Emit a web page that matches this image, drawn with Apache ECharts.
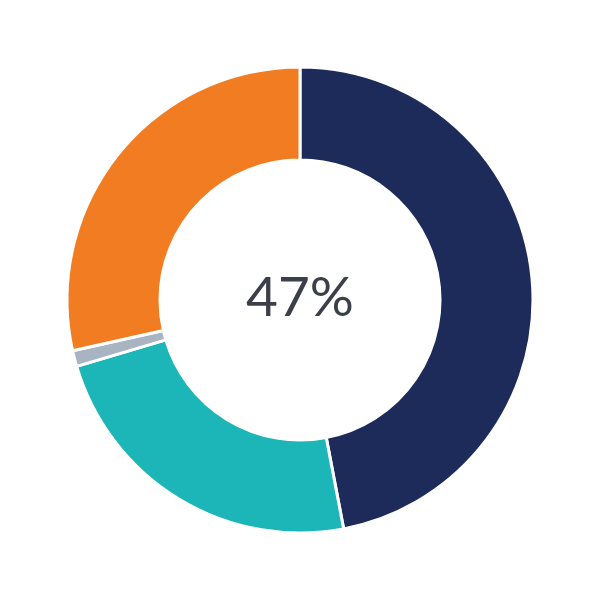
<!DOCTYPE html>
<html><head><meta charset="utf-8">
<script src="https://cdn.jsdelivr.net/npm/echarts@6/dist/echarts.min.js"></script>
<style>html,body{margin:0;padding:0;background:#fff}#c{width:600px;height:600px}</style>
</head><body><div id="c"></div>
<script>
const categories = ['Navy', 'Teal', 'Gray', 'Orange'];
const values = [47, 23.4, 1.1, 28.5];
const colors = ['#1c2b5a', '#1cb5b8', '#a9b4c3', '#f27c21'];
const centerLabel = '47%';

const chart = echarts.init(document.getElementById('c'));
chart.setOption({
  animation: false,
  graphic: [{
    type: 'text', left: 'center', top: 271,
    style: { text: centerLabel, fontFamily: 'Lato', fontWeight: 'normal', fontSize: 55, fill: '#3a3f4a' }
  }],
  series: [{
    type: 'pie',
    center: ['50%', '50%'],
    radius: [140, 233],
    startAngle: 90,
    clockwise: true,
    label: { show: false },
    labelLine: { show: false },
    itemStyle: { borderColor: '#fff', borderWidth: 3 },
    data: categories.map((c, i) => ({ name: c, value: values[i], itemStyle: { color: colors[i] } }))
  }]
});
</script></body></html>
